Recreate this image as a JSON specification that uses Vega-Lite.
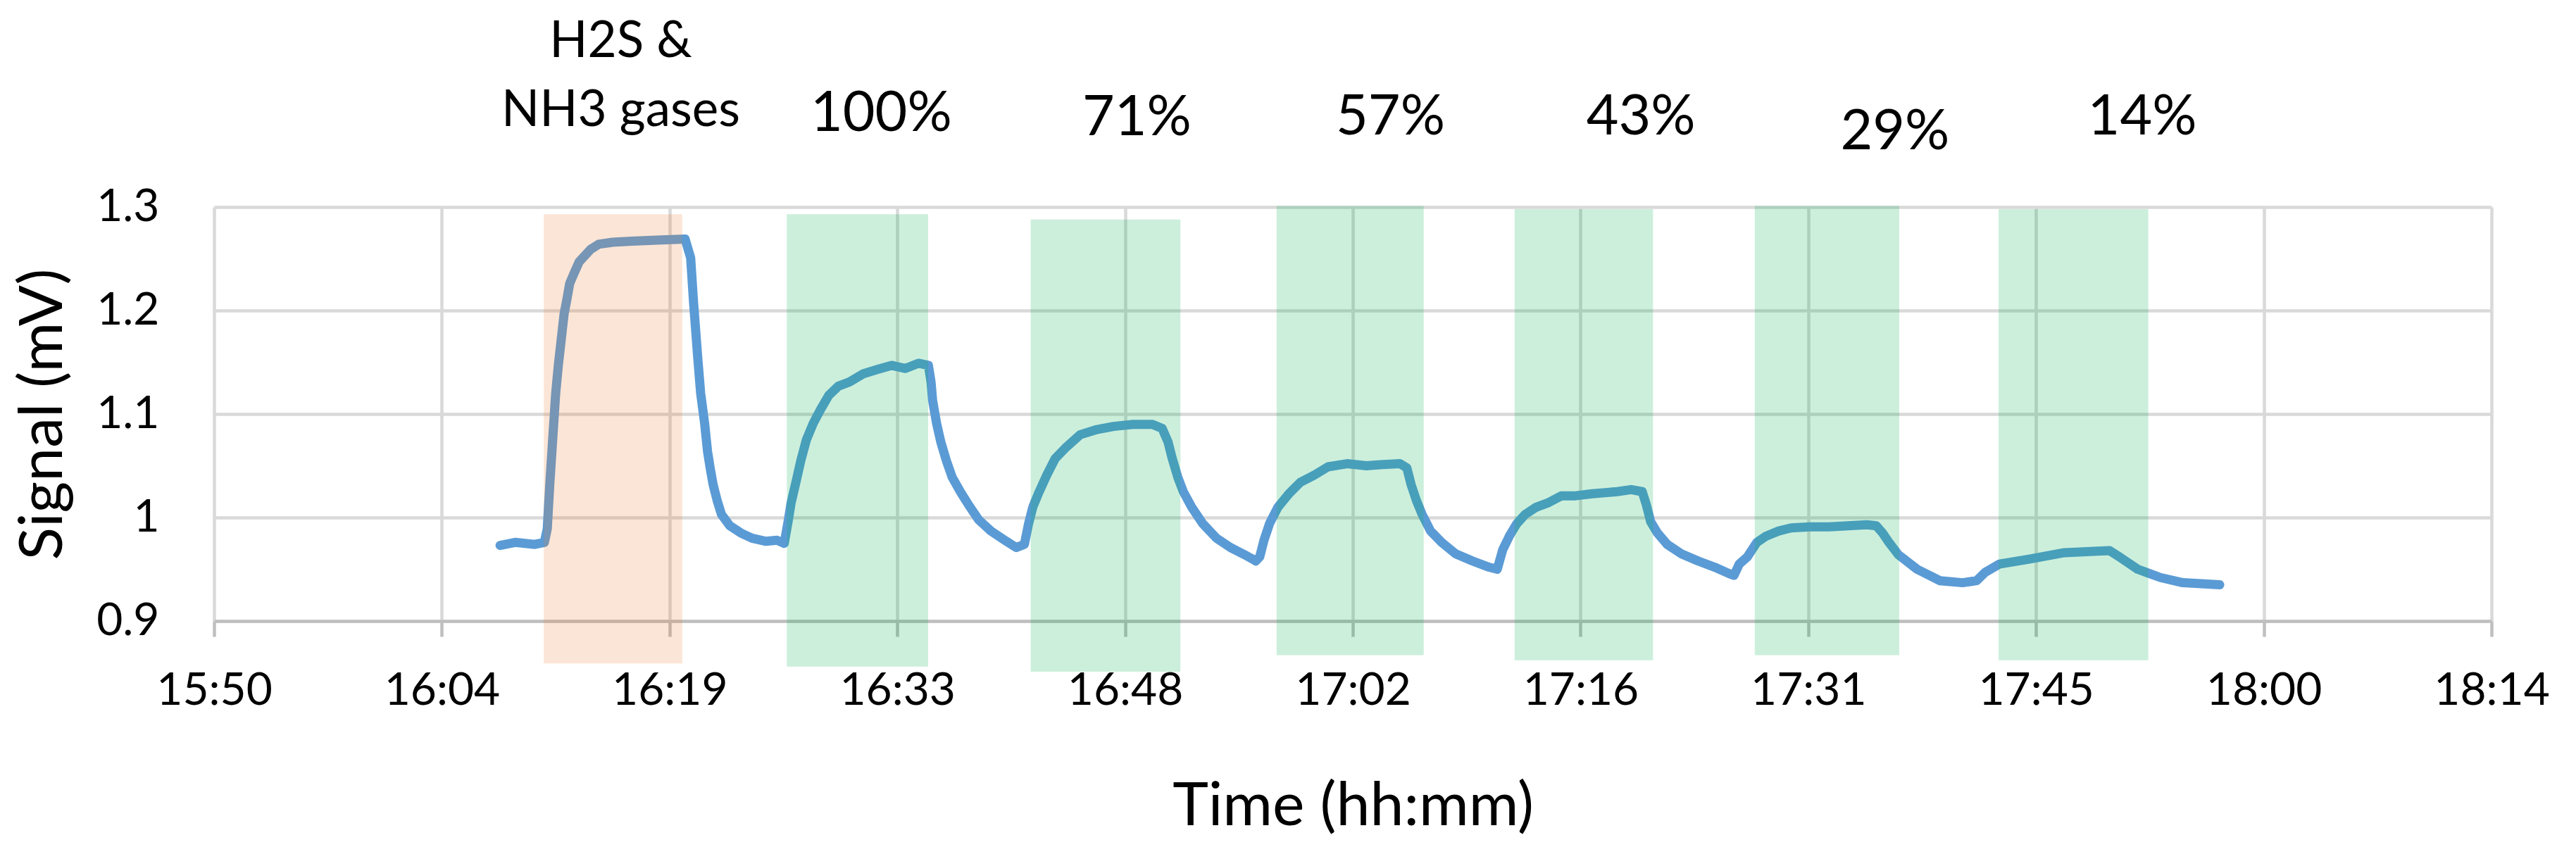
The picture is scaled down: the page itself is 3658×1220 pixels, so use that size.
{
  "$schema": "https://vega.github.io/schema/vega-lite/v6.json",
  "width": 3234,
  "height": 588,
  "autosize": {"type": "none"},
  "padding": {"left": 304, "top": 294, "right": 120, "bottom": 338},
  "background": "white",
  "config": {"font": "Lato", "view": {"stroke": null}},
  "datasets": {
    "signal": [
      {"t": "2024-01-01T16:08:29", "v": 0.973},
      {"t": "2024-01-01T16:09:26", "v": 0.976},
      {"t": "2024-01-01T16:10:41", "v": 0.974},
      {"t": "2024-01-01T16:11:17", "v": 0.976},
      {"t": "2024-01-01T16:11:28", "v": 0.989},
      {"t": "2024-01-01T16:11:38", "v": 1.034},
      {"t": "2024-01-01T16:11:49", "v": 1.077},
      {"t": "2024-01-01T16:12:00", "v": 1.12},
      {"t": "2024-01-01T16:12:10", "v": 1.147},
      {"t": "2024-01-01T16:12:21", "v": 1.172},
      {"t": "2024-01-01T16:12:32", "v": 1.197},
      {"t": "2024-01-01T16:12:42", "v": 1.21},
      {"t": "2024-01-01T16:12:53", "v": 1.226},
      {"t": "2024-01-01T16:13:08", "v": 1.235},
      {"t": "2024-01-01T16:13:29", "v": 1.247},
      {"t": "2024-01-01T16:14:12", "v": 1.259},
      {"t": "2024-01-01T16:14:43", "v": 1.264},
      {"t": "2024-01-01T16:15:37", "v": 1.266},
      {"t": "2024-01-01T16:16:50", "v": 1.267},
      {"t": "2024-01-01T16:18:26", "v": 1.268},
      {"t": "2024-01-01T16:20:11", "v": 1.269},
      {"t": "2024-01-01T16:20:32", "v": 1.251},
      {"t": "2024-01-01T16:20:43", "v": 1.208},
      {"t": "2024-01-01T16:20:59", "v": 1.154},
      {"t": "2024-01-01T16:21:10", "v": 1.12},
      {"t": "2024-01-01T16:21:25", "v": 1.091},
      {"t": "2024-01-01T16:21:36", "v": 1.064},
      {"t": "2024-01-01T16:21:46", "v": 1.048},
      {"t": "2024-01-01T16:21:57", "v": 1.032},
      {"t": "2024-01-01T16:22:13", "v": 1.016},
      {"t": "2024-01-01T16:22:29", "v": 1.003},
      {"t": "2024-01-01T16:23:01", "v": 0.992},
      {"t": "2024-01-01T16:23:43", "v": 0.985},
      {"t": "2024-01-01T16:24:25", "v": 0.98},
      {"t": "2024-01-01T16:25:18", "v": 0.977},
      {"t": "2024-01-01T16:26:00", "v": 0.978},
      {"t": "2024-01-01T16:26:27", "v": 0.975},
      {"t": "2024-01-01T16:26:43", "v": 0.998},
      {"t": "2024-01-01T16:26:53", "v": 1.014},
      {"t": "2024-01-01T16:27:14", "v": 1.037},
      {"t": "2024-01-01T16:27:30", "v": 1.055},
      {"t": "2024-01-01T16:27:51", "v": 1.075},
      {"t": "2024-01-01T16:28:17", "v": 1.091},
      {"t": "2024-01-01T16:28:44", "v": 1.104},
      {"t": "2024-01-01T16:29:16", "v": 1.118},
      {"t": "2024-01-01T16:29:53", "v": 1.127},
      {"t": "2024-01-01T16:30:35", "v": 1.131},
      {"t": "2024-01-01T16:31:28", "v": 1.139},
      {"t": "2024-01-01T16:32:20", "v": 1.143},
      {"t": "2024-01-01T16:33:14", "v": 1.147},
      {"t": "2024-01-01T16:34:07", "v": 1.144},
      {"t": "2024-01-01T16:34:56", "v": 1.149},
      {"t": "2024-01-01T16:35:34", "v": 1.147},
      {"t": "2024-01-01T16:35:44", "v": 1.131},
      {"t": "2024-01-01T16:35:50", "v": 1.113},
      {"t": "2024-01-01T16:36:05", "v": 1.091},
      {"t": "2024-01-01T16:36:21", "v": 1.073},
      {"t": "2024-01-01T16:36:42", "v": 1.055},
      {"t": "2024-01-01T16:37:04", "v": 1.039},
      {"t": "2024-01-01T16:37:35", "v": 1.025},
      {"t": "2024-01-01T16:38:07", "v": 1.012},
      {"t": "2024-01-01T16:38:44", "v": 0.998},
      {"t": "2024-01-01T16:39:31", "v": 0.987},
      {"t": "2024-01-01T16:40:24", "v": 0.978},
      {"t": "2024-01-01T16:41:07", "v": 0.971},
      {"t": "2024-01-01T16:41:38", "v": 0.974},
      {"t": "2024-01-01T16:41:54", "v": 0.994},
      {"t": "2024-01-01T16:42:10", "v": 1.01},
      {"t": "2024-01-01T16:42:31", "v": 1.023},
      {"t": "2024-01-01T16:43:03", "v": 1.041},
      {"t": "2024-01-01T16:43:35", "v": 1.057},
      {"t": "2024-01-01T16:44:17", "v": 1.068},
      {"t": "2024-01-01T16:45:10", "v": 1.08},
      {"t": "2024-01-01T16:46:13", "v": 1.085},
      {"t": "2024-01-01T16:47:16", "v": 1.088},
      {"t": "2024-01-01T16:48:30", "v": 1.09},
      {"t": "2024-01-01T16:49:44", "v": 1.09},
      {"t": "2024-01-01T16:50:21", "v": 1.086},
      {"t": "2024-01-01T16:50:43", "v": 1.073},
      {"t": "2024-01-01T16:50:59", "v": 1.057},
      {"t": "2024-01-01T16:51:20", "v": 1.039},
      {"t": "2024-01-01T16:51:41", "v": 1.025},
      {"t": "2024-01-01T16:52:13", "v": 1.01},
      {"t": "2024-01-01T16:52:55", "v": 0.994},
      {"t": "2024-01-01T16:53:47", "v": 0.98},
      {"t": "2024-01-01T16:54:40", "v": 0.971},
      {"t": "2024-01-01T16:55:34", "v": 0.964},
      {"t": "2024-01-01T16:56:16", "v": 0.958},
      {"t": "2024-01-01T16:56:31", "v": 0.962},
      {"t": "2024-01-01T16:56:47", "v": 0.978},
      {"t": "2024-01-01T16:57:08", "v": 0.994},
      {"t": "2024-01-01T16:57:40", "v": 1.01},
      {"t": "2024-01-01T16:58:22", "v": 1.023},
      {"t": "2024-01-01T16:59:05", "v": 1.034},
      {"t": "2024-01-01T16:59:58", "v": 1.041},
      {"t": "2024-01-01T17:00:50", "v": 1.049},
      {"t": "2024-01-01T17:02:02", "v": 1.052},
      {"t": "2024-01-01T17:03:16", "v": 1.05},
      {"t": "2024-01-01T17:04:08", "v": 1.051},
      {"t": "2024-01-01T17:05:23", "v": 1.052},
      {"t": "2024-01-01T17:05:49", "v": 1.048},
      {"t": "2024-01-01T17:06:05", "v": 1.032},
      {"t": "2024-01-01T17:06:26", "v": 1.016},
      {"t": "2024-01-01T17:06:47", "v": 1.003},
      {"t": "2024-01-01T17:07:19", "v": 0.987},
      {"t": "2024-01-01T17:08:01", "v": 0.976},
      {"t": "2024-01-01T17:08:54", "v": 0.965},
      {"t": "2024-01-01T17:09:58", "v": 0.958},
      {"t": "2024-01-01T17:11:01", "v": 0.952},
      {"t": "2024-01-01T17:11:32", "v": 0.95},
      {"t": "2024-01-01T17:11:53", "v": 0.969},
      {"t": "2024-01-01T17:12:20", "v": 0.983},
      {"t": "2024-01-01T17:12:46", "v": 0.994},
      {"t": "2024-01-01T17:13:18", "v": 1.003},
      {"t": "2024-01-01T17:14:00", "v": 1.01},
      {"t": "2024-01-01T17:14:43", "v": 1.014},
      {"t": "2024-01-01T17:15:35", "v": 1.021},
      {"t": "2024-01-01T17:16:29", "v": 1.021},
      {"t": "2024-01-01T17:17:32", "v": 1.023},
      {"t": "2024-01-01T17:19:07", "v": 1.025},
      {"t": "2024-01-01T17:20:00", "v": 1.027},
      {"t": "2024-01-01T17:20:42", "v": 1.025},
      {"t": "2024-01-01T17:20:58", "v": 1.012},
      {"t": "2024-01-01T17:21:14", "v": 0.996},
      {"t": "2024-01-01T17:21:40", "v": 0.985},
      {"t": "2024-01-01T17:22:17", "v": 0.974},
      {"t": "2024-01-01T17:23:10", "v": 0.965},
      {"t": "2024-01-01T17:24:14", "v": 0.958},
      {"t": "2024-01-01T17:25:17", "v": 0.952},
      {"t": "2024-01-01T17:26:10", "v": 0.946},
      {"t": "2024-01-01T17:26:30", "v": 0.944},
      {"t": "2024-01-01T17:26:50", "v": 0.955},
      {"t": "2024-01-01T17:27:21", "v": 0.962},
      {"t": "2024-01-01T17:27:57", "v": 0.976},
      {"t": "2024-01-01T17:28:32", "v": 0.982},
      {"t": "2024-01-01T17:29:20", "v": 0.987},
      {"t": "2024-01-01T17:30:08", "v": 0.99},
      {"t": "2024-01-01T17:31:20", "v": 0.991},
      {"t": "2024-01-01T17:32:31", "v": 0.991},
      {"t": "2024-01-01T17:33:43", "v": 0.992},
      {"t": "2024-01-01T17:34:55", "v": 0.993},
      {"t": "2024-01-01T17:35:30", "v": 0.992},
      {"t": "2024-01-01T17:35:54", "v": 0.985},
      {"t": "2024-01-01T17:36:18", "v": 0.976},
      {"t": "2024-01-01T17:36:54", "v": 0.964},
      {"t": "2024-01-01T17:38:05", "v": 0.95},
      {"t": "2024-01-01T17:39:31", "v": 0.939},
      {"t": "2024-01-01T17:40:57", "v": 0.937},
      {"t": "2024-01-01T17:41:51", "v": 0.939},
      {"t": "2024-01-01T17:42:23", "v": 0.947},
      {"t": "2024-01-01T17:43:17", "v": 0.955},
      {"t": "2024-01-01T17:45:14", "v": 0.96},
      {"t": "2024-01-01T17:47:23", "v": 0.966},
      {"t": "2024-01-01T17:48:49", "v": 0.967},
      {"t": "2024-01-01T17:50:15", "v": 0.968},
      {"t": "2024-01-01T17:50:58", "v": 0.961},
      {"t": "2024-01-01T17:52:02", "v": 0.95},
      {"t": "2024-01-01T17:53:28", "v": 0.942},
      {"t": "2024-01-01T17:54:53", "v": 0.937},
      {"t": "2024-01-01T17:57:13", "v": 0.935}
    ],
    "bands": [
      {"gas": "H2S & NH3", "start": "2024-01-01T16:11:15", "end": "2024-01-01T16:20:00", "low": 0.859, "high": 1.293},
      {"gas": "dilution", "start": "2024-01-01T16:26:37", "end": "2024-01-01T16:35:33", "low": 0.856, "high": 1.293},
      {"gas": "dilution", "start": "2024-01-01T16:42:02", "end": "2024-01-01T16:51:30", "low": 0.851, "high": 1.288},
      {"gas": "dilution", "start": "2024-01-01T16:57:35", "end": "2024-01-01T17:06:53", "low": 0.867, "high": 1.301},
      {"gas": "dilution", "start": "2024-01-01T17:12:38", "end": "2024-01-01T17:21:23", "low": 0.862, "high": 1.298},
      {"gas": "dilution", "start": "2024-01-01T17:27:49", "end": "2024-01-01T17:36:57", "low": 0.867, "high": 1.301},
      {"gas": "dilution", "start": "2024-01-01T17:43:14", "end": "2024-01-01T17:52:42", "low": 0.862, "high": 1.298}
    ],
    "gasLabels": [
      {"t": "2024-01-01T16:16:07", "y": 1.4446, "label": "H2S &"},
      {"t": "2024-01-01T16:16:07", "y": 1.3784, "label": "NH3 gases"}
    ],
    "pctLabels": [
      {"t": "2024-01-01T16:32:35", "y": 1.3737, "label": "100%"},
      {"t": "2024-01-01T16:48:45", "y": 1.3691, "label": "71%"},
      {"t": "2024-01-01T17:04:47", "y": 1.370, "label": "57%"},
      {"t": "2024-01-01T17:20:37", "y": 1.370, "label": "43%"},
      {"t": "2024-01-01T17:36:41", "y": 1.356, "label": "29%"},
      {"t": "2024-01-01T17:52:19", "y": 1.370, "label": "14%"}
    ]
  },
  "layer": [
    {
      "data": {"name": "signal"},
      "mark": {"type": "line", "color": "#5B9BD5", "strokeWidth": 13, "strokeJoin": "round", "strokeCap": "round"},
      "encoding": {
        "x": {
          "field": "t", "type": "temporal", "title": "Time (hh:mm)",
          "scale": {"domain": [
            {"year": 2024, "month": 1, "date": 1, "hours": 15, "minutes": 50, "seconds": 24},
            {"year": 2024, "month": 1, "date": 1, "hours": 18, "minutes": 14, "seconds": 24}
          ]},
          "axis": {
            "values": [
              {"year": 2024, "month": 1, "date": 1, "hours": 15, "minutes": 50, "seconds": 24},
              {"year": 2024, "month": 1, "date": 1, "hours": 16, "minutes": 4, "seconds": 48},
              {"year": 2024, "month": 1, "date": 1, "hours": 16, "minutes": 19, "seconds": 12},
              {"year": 2024, "month": 1, "date": 1, "hours": 16, "minutes": 33, "seconds": 36},
              {"year": 2024, "month": 1, "date": 1, "hours": 16, "minutes": 48, "seconds": 0},
              {"year": 2024, "month": 1, "date": 1, "hours": 17, "minutes": 2, "seconds": 24},
              {"year": 2024, "month": 1, "date": 1, "hours": 17, "minutes": 16, "seconds": 48},
              {"year": 2024, "month": 1, "date": 1, "hours": 17, "minutes": 31, "seconds": 12},
              {"year": 2024, "month": 1, "date": 1, "hours": 17, "minutes": 45, "seconds": 36},
              {"year": 2024, "month": 1, "date": 1, "hours": 18, "minutes": 0, "seconds": 0},
              {"year": 2024, "month": 1, "date": 1, "hours": 18, "minutes": 14, "seconds": 24}
            ],
            "format": "%H:%M",
            "grid": true, "gridColor": "#D9D9D9", "gridWidth": 4.5,
            "domain": true, "domainColor": "#BFBFBF", "domainWidth": 4.5,
            "ticks": true, "tickColor": "#BFBFBF", "tickWidth": 4.5, "tickSize": 22,
            "labelFontSize": 64, "labelColor": "#000000", "labelPadding": 96, "labelBaseline": "alphabetic",
            "labelFlush": false, "labelOverlap": false,
            "titleFontSize": 86, "titleFontWeight": "normal", "titleColor": "#000000",
            "titleY": 289, "titleBaseline": "alphabetic"
          }
        },
        "y": {
          "field": "v", "type": "quantitative", "title": "Signal (mV)",
          "scale": {"domain": [0.9, 1.3], "nice": false, "zero": false},
          "axis": {
            "values": [0.9, 1, 1.1, 1.2, 1.3],
            "labelExpr": "datum.value == 1 ? '1' : format(datum.value, '.1f')",
            "grid": true, "gridColor": "#D9D9D9", "gridWidth": 4.5,
            "domain": false, "ticks": false,
            "labelFontSize": 64, "labelColor": "#000000", "labelPadding": 78,
            "titleFontSize": 86, "titleFontWeight": "normal", "titleColor": "#000000",
            "titleX": -217, "titleBaseline": "alphabetic"
          }
        }
      }
    },
    {
      "data": {"name": "bands"},
      "mark": {"type": "rect", "opacity": 0.2},
      "encoding": {
        "x": {"field": "start", "type": "temporal", "title": "Time (hh:mm)"},
        "x2": {"field": "end"},
        "y": {"field": "low", "type": "quantitative", "title": "Signal (mV)"},
        "y2": {"field": "high"},
        "color": {"field": "gas", "type": "nominal", "scale": {"domain": ["H2S & NH3", "dilution"], "range": ["#ED7D31", "#00B050"]}, "legend": null}
      }
    },
    {
      "data": {"name": "gasLabels"},
      "mark": {"type": "text", "fontSize": 71, "align": "center", "baseline": "alphabetic", "color": "#000000"},
      "encoding": {
        "x": {"field": "t", "type": "temporal", "title": "Time (hh:mm)"},
        "y": {"field": "y", "type": "quantitative", "title": "Signal (mV)"},
        "text": {"field": "label"}
      }
    },
    {
      "data": {"name": "pctLabels"},
      "mark": {"type": "text", "fontSize": 79, "align": "center", "baseline": "alphabetic", "color": "#000000"},
      "encoding": {
        "x": {"field": "t", "type": "temporal", "title": "Time (hh:mm)"},
        "y": {"field": "y", "type": "quantitative", "title": "Signal (mV)"},
        "text": {"field": "label"}
      }
    }
  ]
}
